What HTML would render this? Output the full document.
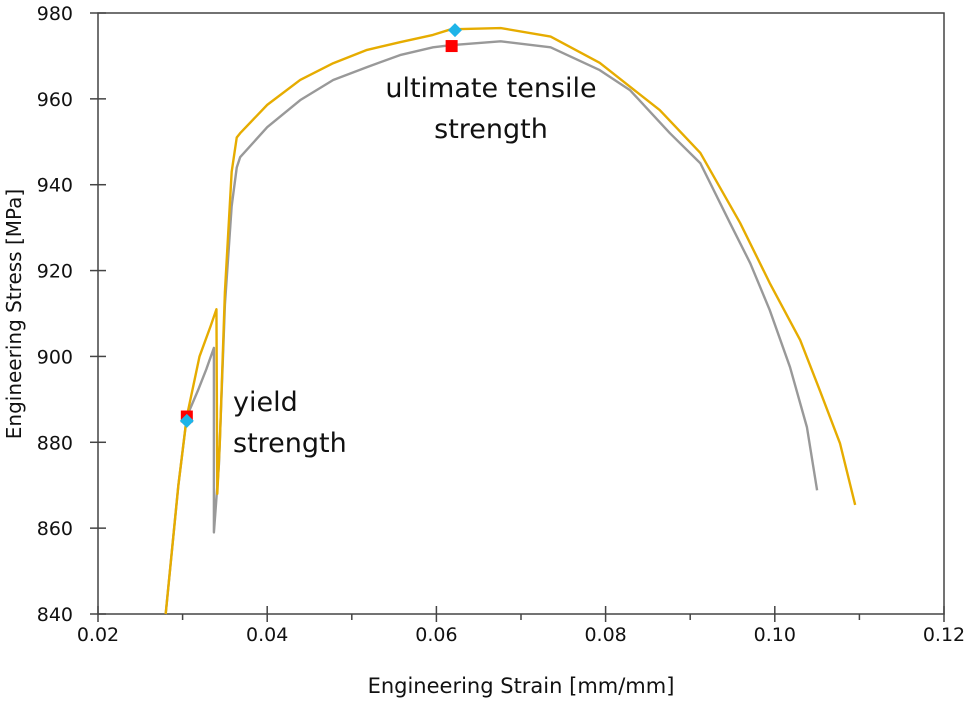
<!DOCTYPE html>
<html><head><meta charset="utf-8"><style>
body{margin:0;background:#fff}
svg text{font-family:"DejaVu Sans","Liberation Sans",sans-serif}
</style></head><body>
<svg id="chart" width="968" height="701" xmlns="http://www.w3.org/2000/svg">
<g id="axes"></g><g id="series"></g><g id="marks"></g>
<text x="233" y="411" font-size="27" fill="#111">yield</text>
<text x="233" y="452" font-size="27" fill="#111">strength</text>
<text x="491" y="97" font-size="27" fill="#111" text-anchor="middle">ultimate tensile</text>
<text x="491" y="138" font-size="27" fill="#111" text-anchor="middle">strength</text>
<text x="521" y="693" font-size="21" text-anchor="middle" fill="#111">Engineering Strain [mm/mm]</text>
<text transform="translate(21,314) rotate(-90)" font-size="20" text-anchor="middle" fill="#111">Engineering Stress [MPa]</text>
</svg>
<script>
const xTicks=[0.02,0.04,0.06,0.08,0.10,0.12];
const xTickLabels=["0.02","0.04","0.06","0.08","0.10","0.12"];
const yTicks=[840,860,880,900,920,940,960,980];
const yellowX=[0.028,0.0295,0.0305,0.032,0.0333,0.034,0.0341,0.0344,0.035,0.0358,0.0364,0.0368,0.04,0.0439,0.0478,0.0518,0.0557,0.0596,0.0617,0.0676,0.0735,0.0793,0.0829,0.0864,0.0912,0.0959,0.0994,0.103,0.1053,0.1077,0.1095];
const yellowY=[840,870,886,900,907,911,868,880,915,943,951,952,958.6,964.4,968.3,971.4,973.2,974.9,976.2,976.5,974.5,968.4,962.8,957.4,947.4,931.1,917.1,903.8,892.2,879.8,865.4];
const grayX=[0.028,0.0295,0.0305,0.0318,0.0328,0.0337,0.0337,0.0343,0.035,0.0358,0.0364,0.0368,0.04,0.0439,0.0478,0.0518,0.0557,0.0596,0.0617,0.0676,0.0735,0.0793,0.0829,0.0876,0.0912,0.0947,0.0971,0.0994,0.1018,0.1038,0.105];
const grayY=[840,870,886,892,897,902,859,875,912,935,944,946.4,953.4,959.7,964.4,967.4,970.2,972,972.5,973.4,972,966.7,962,952,945,931.1,921.7,910.8,897.5,883.5,868.8];
const ysX=[0.0305,0.0305];const ysY=[886,885];
const utsX=[0.0618,0.0622];const utsY=[972.3,976];
const L=98,R=944,T=13,B=614;
const sx=v=>L+(v-0.02)/0.10*(R-L);
const sy=v=>B-(v-840)/140*(B-T);
const NS="http://www.w3.org/2000/svg";
function mk(p,t,a){const e=document.createElementNS(NS,t);for(const k in a)e.setAttribute(k,a[k]);p.appendChild(e);return e;}
const ax=document.getElementById('axes');
const box=mk(ax,'rect',{x:L,y:T,width:R-L,height:B-T,fill:'none',stroke:'#444','stroke-width':1.5});


yTicks.forEach(v=>{
 const l=mk(ax,'line',{x1:L-8,x2:L+8,y1:sy(v),y2:sy(v),stroke:'#444','stroke-width':1.5});
 
 
 const t=mk(ax,'text',{x:L-25,y:sy(v)+7,'font-size':19,'text-anchor':'end',fill:'#111'});t.textContent=v;
 
 
});
xTicks.forEach((v,i)=>{
 const l=mk(ax,'line',{x1:sx(v),x2:sx(v),y1:B-8,y2:B+8,stroke:'#444','stroke-width':1.5});
 
 
 if(i<xTicks.length-1){const m=mk(ax,'line',{x1:sx(v+0.01),x2:sx(v+0.01),y1:B,y2:B+6,stroke:'#444','stroke-width':1.5});
 
 }
 const t=mk(ax,'text',{x:sx(v),y:B+27,'font-size':19,'text-anchor':'middle',fill:'#111'});t.textContent=xTickLabels[i];
 
 
});
const se=document.getElementById('series');
function line(xs,ys,c,n){const p=mk(se,'polyline',{points:xs.map((x,i)=>sx(x)+','+sy(ys[i])).join(' '),fill:'none',stroke:c,'stroke-width':2.4,'stroke-linejoin':'round'});
 
 }
line(grayX,grayY,'#999999','gray-curve');
line(yellowX,yellowY,'#E6AC00','yellow-curve');
const mg=document.getElementById('marks');
function sq(x,y,n){const r=mk(mg,'rect',{x:sx(x)-6,y:sy(y)-6,width:12,height:12,fill:'#ff0000'});
 
 }
function dia(x,y,n){const cx=sx(x),cy=sy(y);const p=mk(mg,'polygon',{points:`${cx},${cy-7} ${cx+7},${cy} ${cx},${cy+7} ${cx-7},${cy}`,fill:'#1EB4E8'});
 
 }
sq(ysX[0],ysY[0],'yield-marker-gray');dia(ysX[1],ysY[1],'yield-marker-yellow');
sq(utsX[0],utsY[0],'uts-marker-gray');dia(utsX[1],utsY[1],'uts-marker-yellow');
</script>
</body></html>
